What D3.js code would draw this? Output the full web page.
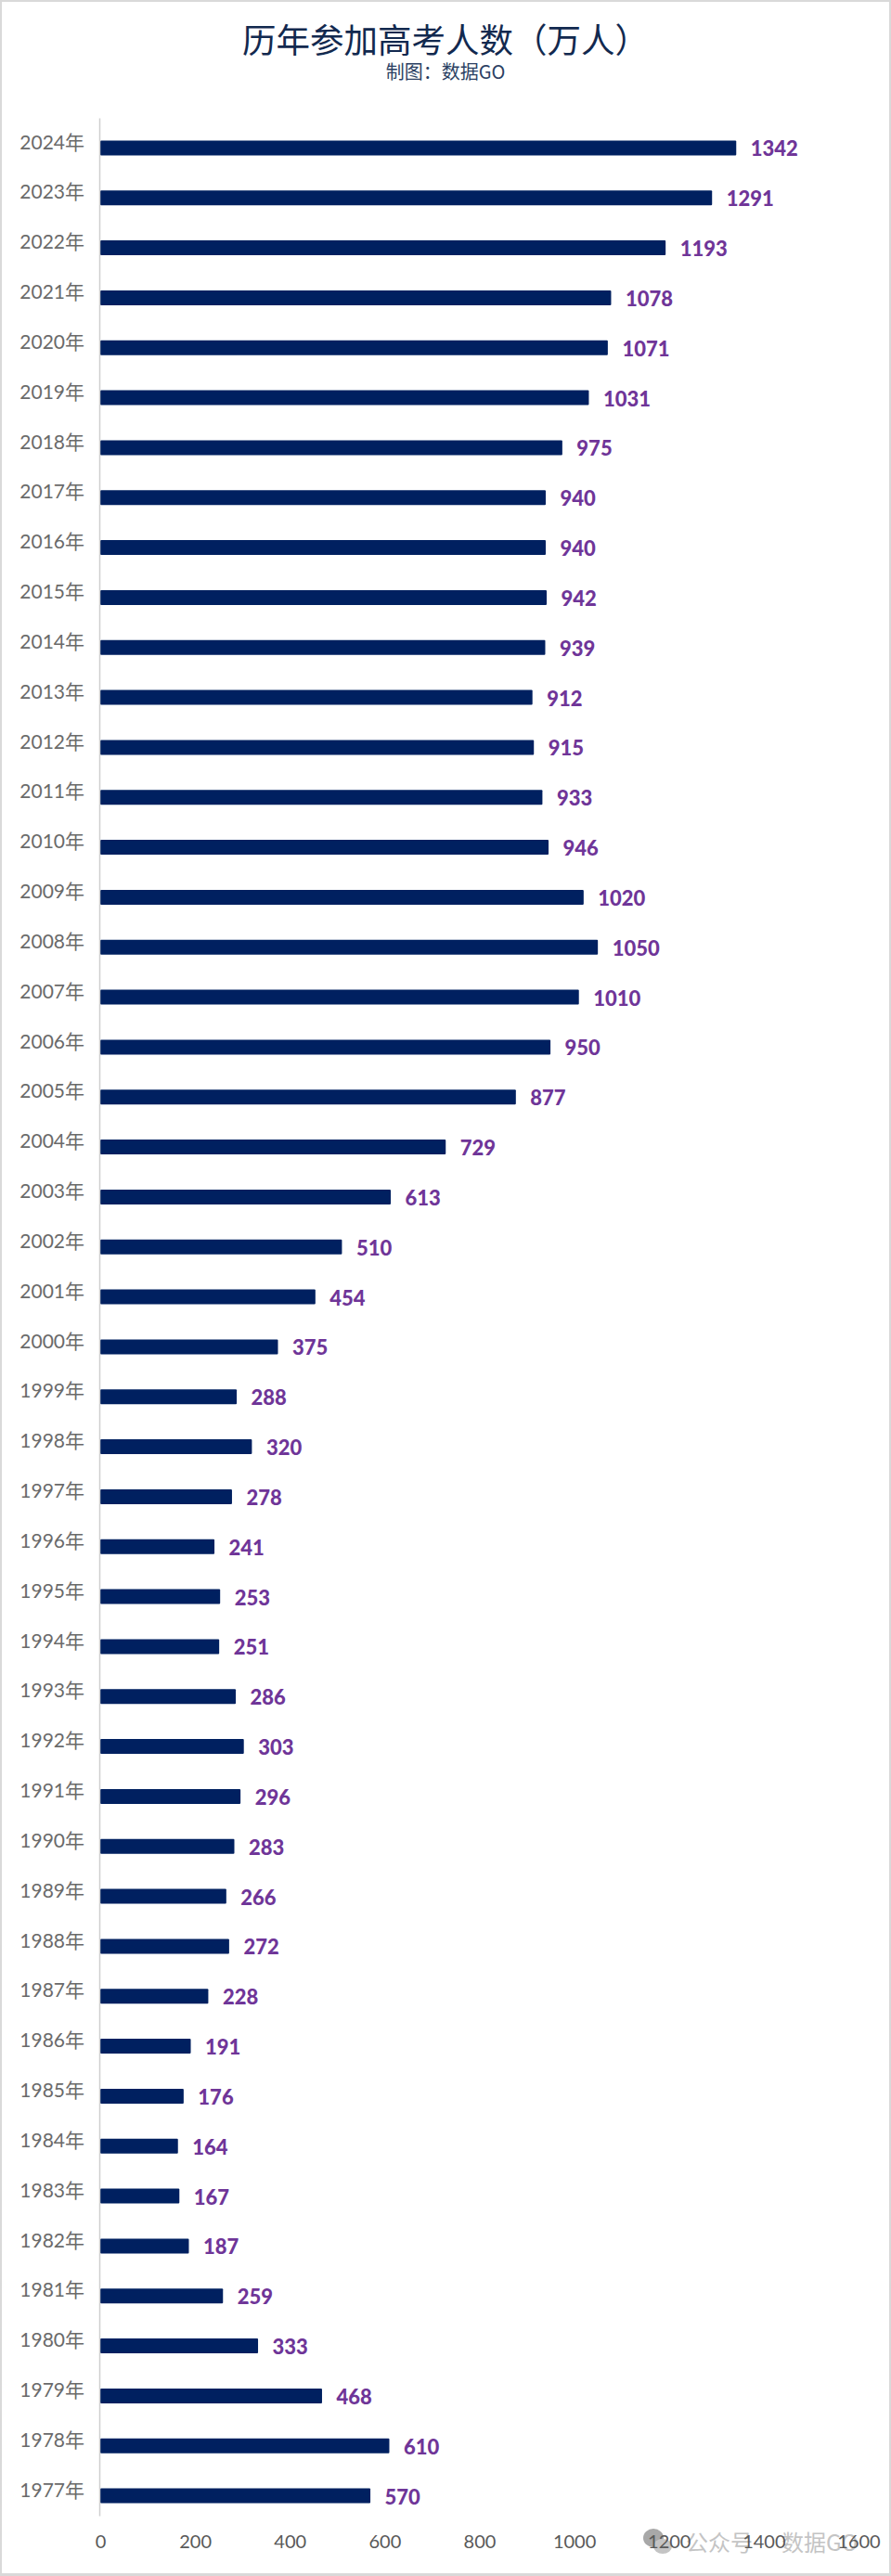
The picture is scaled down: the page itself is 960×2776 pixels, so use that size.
<!DOCTYPE html>
<html>
<head>
<meta charset="utf-8">
<script src="https://cdn.jsdelivr.net/npm/d3@7"></script>
<style>
  html, body { margin: 0; padding: 0; background: #fff; }
  svg { display: block; }
</style>
</head>
<body>
<div id="chart"></div>
<script>
const years = ["2024年","2023年","2022年","2021年","2020年","2019年","2018年","2017年","2016年","2015年","2014年","2013年","2012年","2011年","2010年","2009年","2008年","2007年","2006年","2005年","2004年","2003年","2002年","2001年","2000年","1999年","1998年","1997年","1996年","1995年","1994年","1993年","1992年","1991年","1990年","1989年","1988年","1987年","1986年","1985年","1984年","1983年","1982年","1981年","1980年","1979年","1978年","1977年"];
const examTakers = [1342,1291,1193,1078,1071,1031,975,940,940,942,939,912,915,933,946,1020,1050,1010,950,877,729,613,510,454,375,288,320,278,241,253,251,286,303,296,283,266,272,228,191,176,164,167,187,259,333,468,610,570];
const xTicks = [0,200,400,600,800,1000,1200,1400,1600];

const width = 960;
const height = 2776;
const marginTop = 127;
const marginBottom = 65;
const marginLeft = 107;
const latin = "Lato, 'Noto Sans CJK SC', sans-serif";
const cjk = "'Noto Sans CJK SC', sans-serif";

const svg = d3.create("svg").attr("width", width).attr("height", height);

// grey frame around the picture: grey backing, white sheet on top
svg.append("rect").attr("width", width).attr("height", height).attr("fill", "#d9d9d9");
svg.append("rect")
  .attr("x", 2).attr("y", 2)
  .attr("width", width - 4).attr("height", height - 5)
  .attr("fill", "#fff");

const x = d3.scaleLinear().domain([0, 1600]).range([marginLeft + 1, 925]);
const y = d3.scaleBand().domain(years).range([marginTop, height - marginBottom]);

// bars sit a little below the category label
const barHeight = 16;
const barOffset = 5.5;

svg.append("text")
  .attr("x", 480).attr("y", 41)
  .attr("text-anchor", "middle")
  .attr("dominant-baseline", "central")
  .attr("font-family", cjk)
  .attr("font-size", 36.5)
  .attr("fill", "#12294f")
  .text("历年参加高考人数（万人）");

svg.append("text")
  .attr("x", 480).attr("y", 76)
  .attr("text-anchor", "middle")
  .attr("dominant-baseline", "central")
  .attr("font-family", cjk)
  .attr("font-size", 20)
  .attr("fill", "#2b3f63")
  .text("制图：数据GO");

// bars
svg.append("g")
  .attr("fill", "#002060")
  .selectAll("rect")
  .data(years)
  .join("rect")
  .attr("x", x(0))
  .attr("y", (d) => y(d) + y.bandwidth() / 2 + barOffset - barHeight / 2)
  .attr("width", (d, i) => x(examTakers[i]) - x(0))
  .attr("height", barHeight)
  .attr("rx", 1);

// value labels
svg.append("g")
  .attr("fill", "#6f3598")
  .attr("font-family", latin)
  .attr("font-weight", 900)
  .attr("font-size", 22)
  .selectAll("text")
  .data(years)
  .join("text")
  .attr("x", (d, i) => x(examTakers[i]) + 15.5)
  .attr("y", (d) => y(d) + y.bandwidth() / 2 + barOffset + 0.5)
  .attr("dominant-baseline", "central")
  .text((d, i) => examTakers[i]);

// category axis
const yAxis = svg.append("g")
  .attr("transform", `translate(${marginLeft},0)`)
  .call(d3.axisLeft(y).tickSize(0).tickPadding(16));
yAxis.select(".domain").attr("stroke", "#cfcfcf").attr("stroke-width", 1.5);
yAxis.selectAll("text")
  .attr("fill", "#6a6a6a")
  .attr("font-family", latin)
  .attr("font-size", 21);

// watermark, the axis labels print darker over it
const mark = svg.append("g").attr("fill", "#c4c4c4");
mark.append("ellipse").attr("cx", 704).attr("cy", 2735).attr("rx", 11).attr("ry", 10).attr("fill", "#a8a8a8");
mark.append("ellipse").attr("cx", 714).attr("cy", 2744).attr("rx", 10).attr("ry", 8);
mark.append("text")
  .attr("x", 739).attr("y", 2738)
  .attr("dominant-baseline", "central")
  .attr("font-family", cjk)
  .attr("font-size", 24)
  .text("公众号");
mark.append("text")
  .attr("x", 842).attr("y", 2738)
  .attr("dominant-baseline", "central")
  .attr("font-family", cjk)
  .attr("font-size", 24)
  .text("数据GO");

// value axis
const xAxis = svg.append("g")
  .attr("transform", "translate(0,2732)")
  .call(d3.axisBottom(x).tickValues(xTicks).tickSize(0).tickPadding(0).tickFormat(d3.format("d")));
xAxis.select(".domain").remove();
xAxis.selectAll("text")
  .attr("fill", "#595959")
  .attr("font-family", latin)
  .attr("font-size", 20);

document.getElementById("chart").append(svg.node());
</script>
</body>
</html>
